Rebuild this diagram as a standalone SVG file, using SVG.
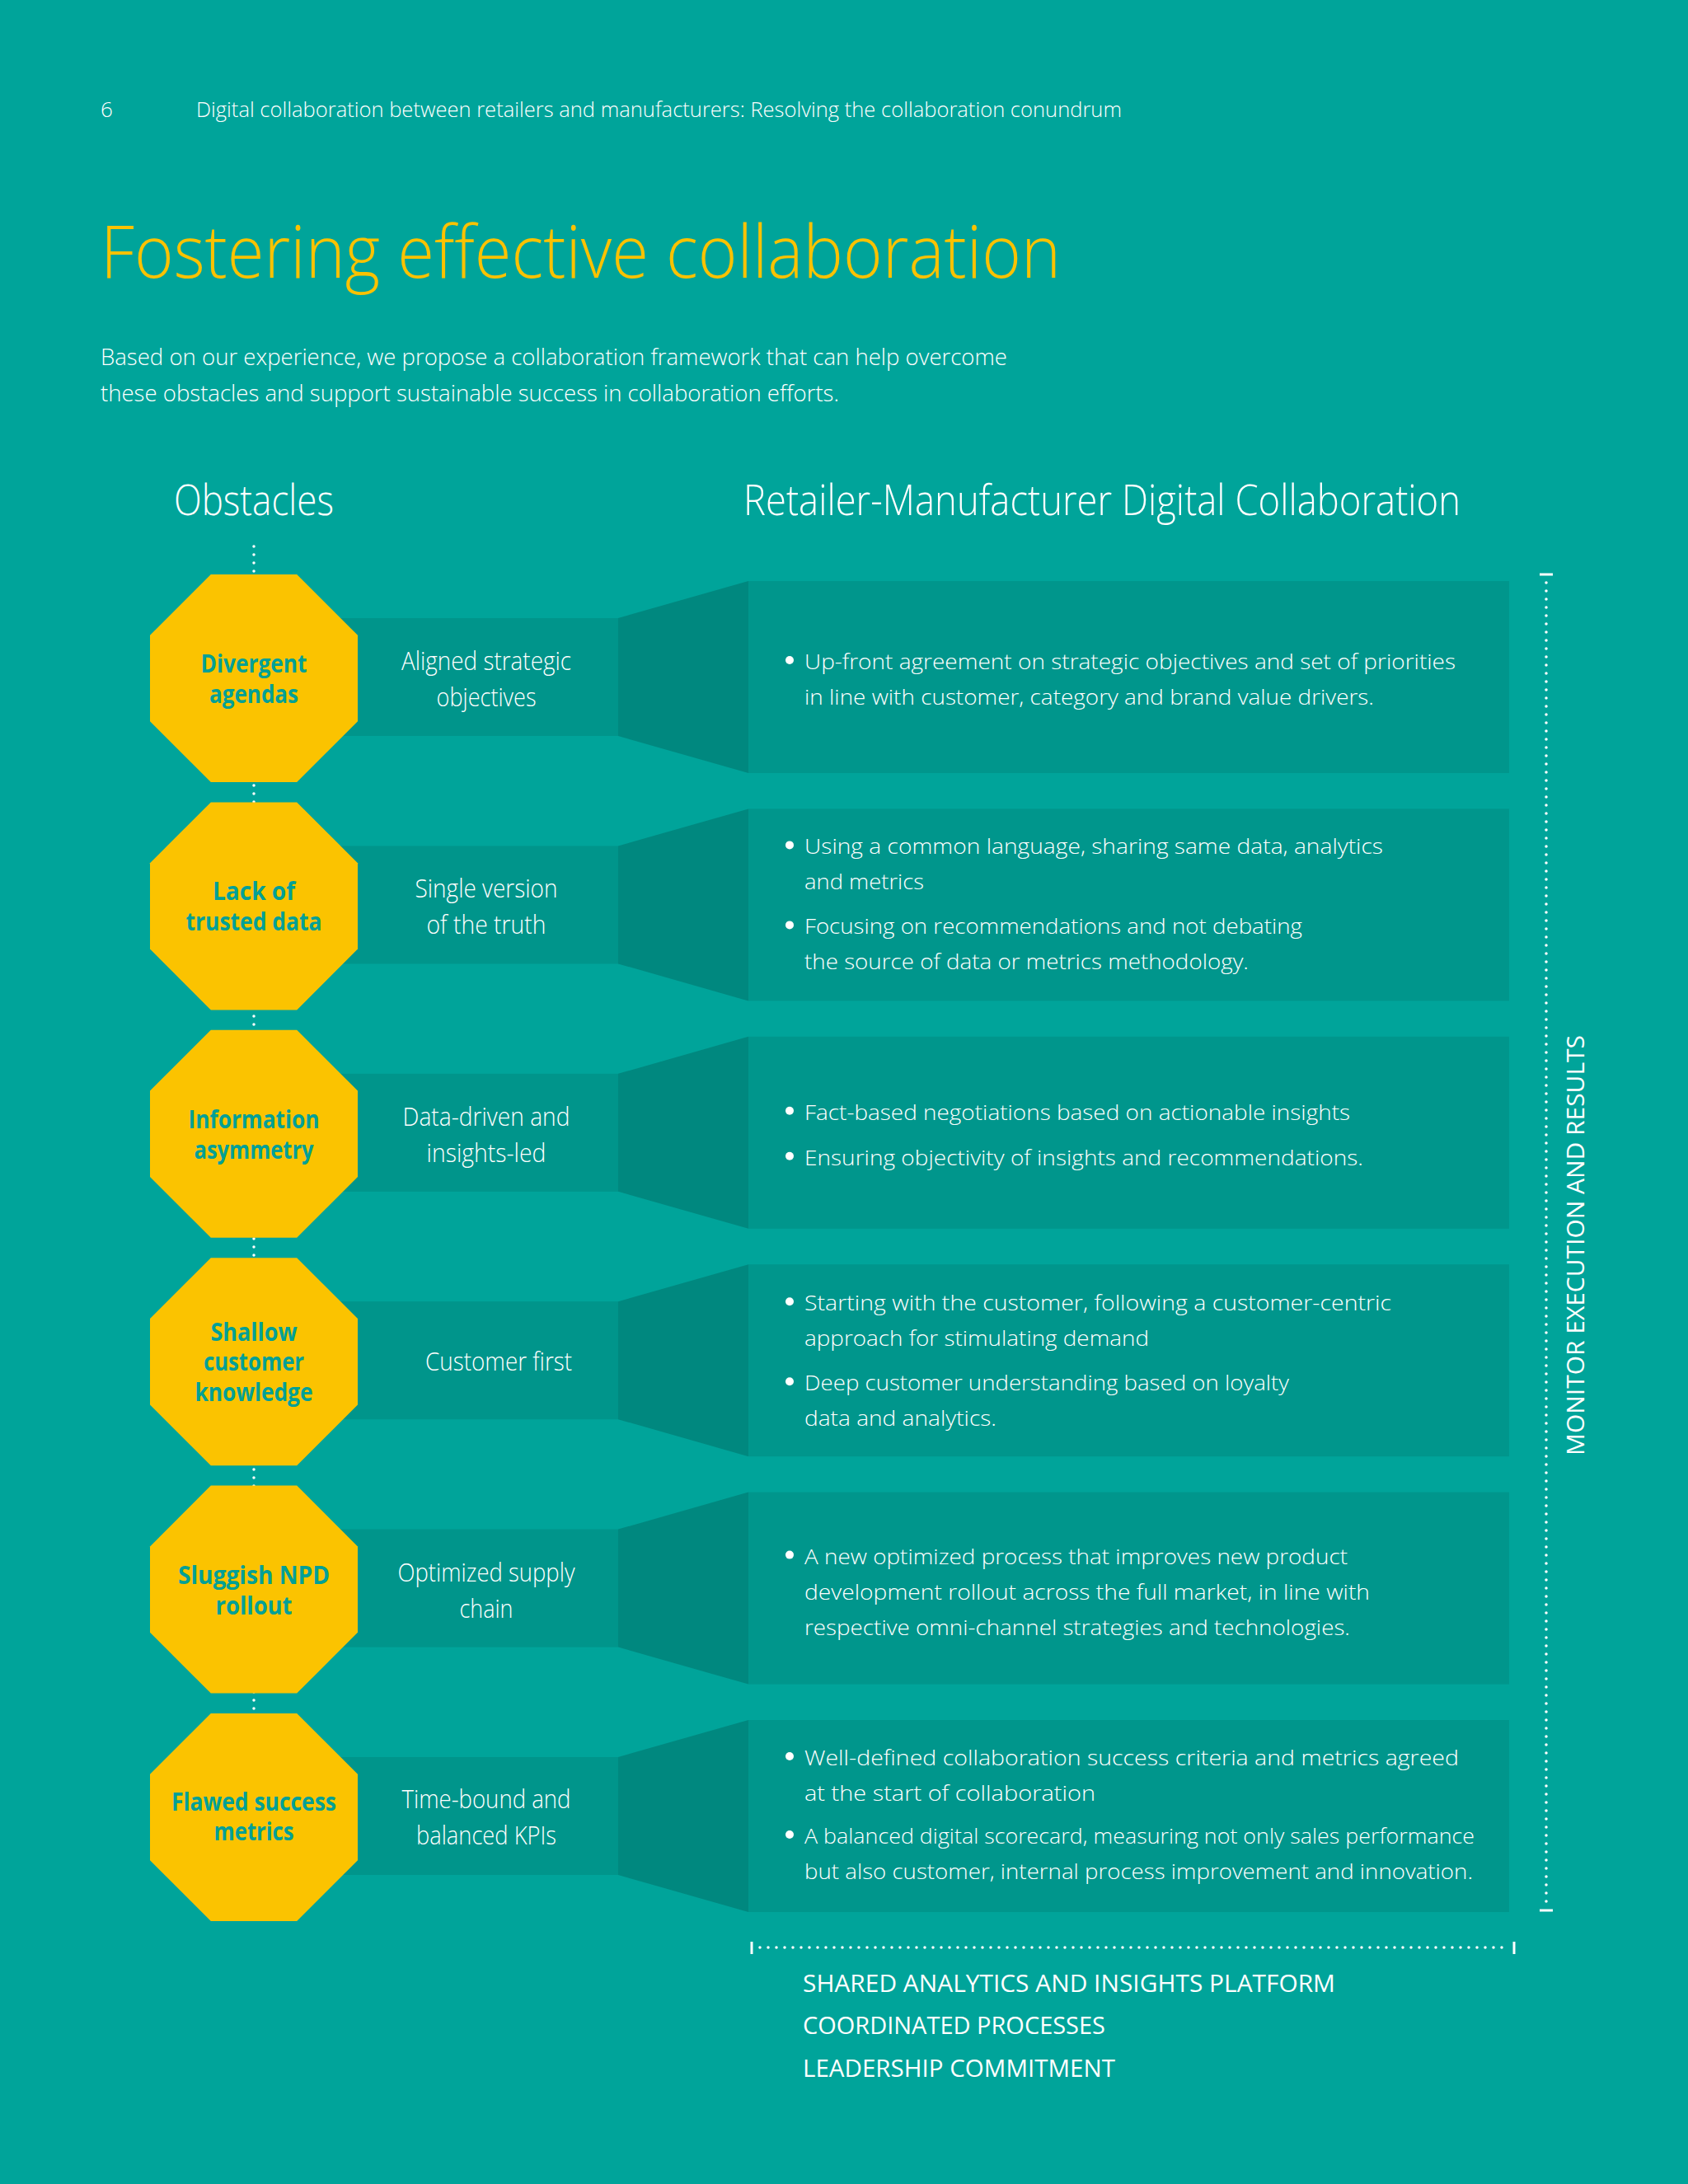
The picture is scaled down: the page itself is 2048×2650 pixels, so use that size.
<svg xmlns="http://www.w3.org/2000/svg" xmlns:xlink="http://www.w3.org/1999/xlink" width="2048" height="2650" viewBox="0 0 2048 2650">
<style>
.t{font-family:"Open Sans","Liberation Sans",sans-serif;fill:#ffffff;font-weight:300}
.hd{font-size:26px}
.title{font-size:88px;fill:#FBC200}
.para{font-size:28px}
.col{font-size:52px}
.ot{font-family:"Open Sans","Liberation Sans",sans-serif;font-size:30px;font-weight:700;fill:#00A096;text-anchor:middle}
.bt{font-size:32px;text-anchor:middle}
.ct{font-size:26px}
.ft{font-size:30px;font-weight:500}
.oct{fill:#FBC300}
.band{fill:#00958B}
.trap{fill:#00887F}
.card{fill:#00968C}
.bul{fill:#ffffff}
.dots{fill:none;stroke:#ffffff;stroke-width:3.5;stroke-linecap:round;stroke-dasharray:0 10}
.tick{stroke:#ffffff;stroke-width:3;fill:none}
</style>
<defs>
<polygon id="oct" points="255.8,0 360.2,0 434,73.8 434,178.2 360.2,252 255.8,252 182,178.2 182,73.8"/>
</defs>
<rect x="0" y="0" width="2048" height="2650" fill="#00A49A"/>

<g id="header">
<text class="t hd" x="122" y="142">6</text>
<text class="t hd" x="238" y="142" textLength="1123" lengthAdjust="spacingAndGlyphs">Digital collaboration between retailers and manufacturers: Resolving the collaboration conundrum</text>
<text class="t title" x="122" y="337" textLength="1165" lengthAdjust="spacingAndGlyphs">Fostering effective collaboration</text>
<text class="t para" x="122" y="443" textLength="1100" lengthAdjust="spacingAndGlyphs">Based on our experience, we propose a collaboration framework that can help overcome</text>
<text class="t para" x="122" y="487" textLength="896" lengthAdjust="spacingAndGlyphs">these obstacles and support sustainable success in collaboration efforts.</text>
<text class="t col" x="211" y="625" textLength="194" lengthAdjust="spacingAndGlyphs">Obstacles</text>
<text class="t col" x="902" y="625" textLength="870" lengthAdjust="spacingAndGlyphs">Retailer-Manufacturer Digital Collaboration</text>
</g>

<g id="connectors">
<line class="dots" x1="308" y1="663" x2="308" y2="2330"/>
<line class="dots" x1="1876" y1="707" x2="1876" y2="2310"/>
<line class="tick" x1="1868" y1="697" x2="1884" y2="697"/>
<line class="tick" x1="1868" y1="2318" x2="1884" y2="2318"/>
<line class="dots" x1="922" y1="2363" x2="1828" y2="2363"/>
<line class="tick" x1="912" y1="2356" x2="912" y2="2371"/>
<line class="tick" x1="1837" y1="2356" x2="1837" y2="2371"/>
</g>

<!-- Row 1 -->
<g id="solution-1" transform="translate(0,697)">
<rect class="band" x="400" y="53" width="350" height="143"/>
<polygon class="trap" points="750,53 908,8 908,241 750,196"/>
<text class="t bt" x="590" y="116" textLength="206" lengthAdjust="spacingAndGlyphs">Aligned strategic</text>
<text class="t bt" x="590" y="160" textLength="121" lengthAdjust="spacingAndGlyphs">objectives</text>
</g>
<g id="detail-1" transform="translate(0,697)">
<rect class="card" x="908" y="8" width="923" height="233"/>
<circle class="bul" cx="958" cy="104" r="5"/>
<text class="t ct" x="976" y="115" textLength="790" lengthAdjust="spacingAndGlyphs">Up-front agreement on strategic objectives and set of priorities</text>
<text class="t ct" x="976" y="158" textLength="691" lengthAdjust="spacingAndGlyphs">in line with customer, category and brand value drivers.</text>
</g>
<g id="obstacle-1" transform="translate(0,697)">
<use xlink:href="#oct" class="oct"/>
<text class="ot" x="308" y="119" textLength="129" lengthAdjust="spacingAndGlyphs">Divergent</text>
<text class="ot" x="308" y="156" textLength="108" lengthAdjust="spacingAndGlyphs">agendas</text>
</g>

<!-- Row 2 -->
<g id="solution-2" transform="translate(0,973.4)">
<rect class="band" x="400" y="53" width="350" height="143"/>
<polygon class="trap" points="750,53 908,8 908,241 750,196"/>
<text class="t bt" x="590" y="116" textLength="173" lengthAdjust="spacingAndGlyphs">Single version</text>
<text class="t bt" x="590" y="160" textLength="145" lengthAdjust="spacingAndGlyphs">of the truth</text>
</g>
<g id="detail-2" transform="translate(0,973.4)">
<rect class="card" x="908" y="8" width="923" height="233"/>
<circle class="bul" cx="958" cy="52" r="5"/>
<text class="t ct" x="976" y="63" textLength="702" lengthAdjust="spacingAndGlyphs">Using a common language, sharing same data, analytics</text>
<text class="t ct" x="976" y="106" textLength="145" lengthAdjust="spacingAndGlyphs">and metrics</text>
<circle class="bul" cx="958" cy="149" r="5"/>
<text class="t ct" x="976" y="160" textLength="604" lengthAdjust="spacingAndGlyphs">Focusing on recommendations and not debating</text>
<text class="t ct" x="976" y="203" textLength="539" lengthAdjust="spacingAndGlyphs">the source of data or metrics methodology.</text>
</g>
<g id="obstacle-2" transform="translate(0,973.4)">
<use xlink:href="#oct" class="oct"/>
<text class="ot" x="308" y="119" textLength="100" lengthAdjust="spacingAndGlyphs">Lack of</text>
<text class="ot" x="308" y="156" textLength="165" lengthAdjust="spacingAndGlyphs">trusted data</text>
</g>

<!-- Row 3 -->
<g id="solution-3" transform="translate(0,1249.8)">
<rect class="band" x="400" y="53" width="350" height="143"/>
<polygon class="trap" points="750,53 908,8 908,241 750,196"/>
<text class="t bt" x="590" y="116" textLength="203" lengthAdjust="spacingAndGlyphs">Data-driven and</text>
<text class="t bt" x="590" y="160" textLength="145" lengthAdjust="spacingAndGlyphs">insights-led</text>
</g>
<g id="detail-3" transform="translate(0,1249.8)">
<rect class="card" x="908" y="8" width="923" height="233"/>
<circle class="bul" cx="958" cy="98" r="5"/>
<text class="t ct" x="976" y="109" textLength="662" lengthAdjust="spacingAndGlyphs">Fact-based negotiations based on actionable insights</text>
<circle class="bul" cx="958" cy="153" r="5"/>
<text class="t ct" x="976" y="164" textLength="678" lengthAdjust="spacingAndGlyphs">Ensuring objectivity of insights and recommendations.</text>
</g>
<g id="obstacle-3" transform="translate(0,1249.8)">
<use xlink:href="#oct" class="oct"/>
<text class="ot" x="308" y="119" textLength="159" lengthAdjust="spacingAndGlyphs">Information</text>
<text class="ot" x="308" y="156" textLength="145" lengthAdjust="spacingAndGlyphs">asymmetry</text>
</g>

<!-- Row 4 -->
<g id="solution-4" transform="translate(0,1526.2)">
<rect class="band" x="400" y="53" width="350" height="143"/>
<polygon class="trap" points="750,53 908,8 908,241 750,196"/>
<text class="t bt" x="605" y="137" textLength="178" lengthAdjust="spacingAndGlyphs">Customer first</text>
</g>
<g id="detail-4" transform="translate(0,1526.2)">
<rect class="card" x="908" y="8" width="923" height="233"/>
<circle class="bul" cx="958" cy="53" r="5"/>
<text class="t ct" x="976" y="64" textLength="712" lengthAdjust="spacingAndGlyphs">Starting with the customer, following a customer-centric</text>
<text class="t ct" x="976" y="107" textLength="418" lengthAdjust="spacingAndGlyphs">approach for stimulating demand</text>
<circle class="bul" cx="958" cy="150" r="5"/>
<text class="t ct" x="976" y="161" textLength="588" lengthAdjust="spacingAndGlyphs">Deep customer understanding based on loyalty</text>
<text class="t ct" x="976" y="204" textLength="233" lengthAdjust="spacingAndGlyphs">data and analytics.</text>
</g>
<g id="obstacle-4" transform="translate(0,1526.2)">
<use xlink:href="#oct" class="oct"/>
<text class="ot" x="308" y="101" textLength="105" lengthAdjust="spacingAndGlyphs">Shallow</text>
<text class="ot" x="308" y="137" textLength="122" lengthAdjust="spacingAndGlyphs">customer</text>
<text class="ot" x="308" y="174" textLength="143" lengthAdjust="spacingAndGlyphs">knowledge</text>
</g>

<!-- Row 5 -->
<g id="solution-5" transform="translate(0,1802.6)">
<rect class="band" x="400" y="53" width="350" height="143"/>
<polygon class="trap" points="750,53 908,8 908,241 750,196"/>
<text class="t bt" x="590" y="116" textLength="215" lengthAdjust="spacingAndGlyphs">Optimized supply</text>
<text class="t bt" x="590" y="160" textLength="65" lengthAdjust="spacingAndGlyphs">chain</text>
</g>
<g id="detail-5" transform="translate(0,1802.6)">
<rect class="card" x="908" y="8" width="923" height="233"/>
<circle class="bul" cx="958" cy="84" r="5"/>
<text class="t ct" x="976" y="95" textLength="659" lengthAdjust="spacingAndGlyphs">A new optimized process that improves new product</text>
<text class="t ct" x="976" y="138" textLength="686" lengthAdjust="spacingAndGlyphs">development rollout across the full market, in line with</text>
<text class="t ct" x="976" y="181" textLength="662" lengthAdjust="spacingAndGlyphs">respective omni-channel strategies and technologies.</text>
</g>
<g id="obstacle-5" transform="translate(0,1802.6)">
<use xlink:href="#oct" class="oct"/>
<text class="ot" x="308" y="119" textLength="184" lengthAdjust="spacingAndGlyphs">Sluggish NPD</text>
<text class="ot" x="308" y="156" textLength="93" lengthAdjust="spacingAndGlyphs">rollout</text>
</g>

<!-- Row 6 -->
<g id="solution-6" transform="translate(0,2079)">
<rect class="band" x="400" y="53" width="350" height="143"/>
<polygon class="trap" points="750,53 908,8 908,241 750,196"/>
<text class="t bt" x="590" y="115" textLength="205" lengthAdjust="spacingAndGlyphs">Time-bound and</text>
<text class="t bt" x="590" y="159" textLength="170" lengthAdjust="spacingAndGlyphs">balanced KPIs</text>
</g>
<g id="detail-6" transform="translate(0,2079)">
<rect class="card" x="908" y="8" width="923" height="233"/>
<circle class="bul" cx="958" cy="52" r="5"/>
<text class="t ct" x="976" y="63" textLength="794" lengthAdjust="spacingAndGlyphs">Well-defined collaboration success criteria and metrics agreed</text>
<text class="t ct" x="976" y="106" textLength="353" lengthAdjust="spacingAndGlyphs">at the start of collaboration</text>
<circle class="bul" cx="958" cy="147" r="5"/>
<text class="t ct" x="976" y="158" textLength="813" lengthAdjust="spacingAndGlyphs">A balanced digital scorecard, measuring not only sales performance</text>
<text class="t ct" x="976" y="201" textLength="811" lengthAdjust="spacingAndGlyphs">but also customer, internal process improvement and innovation.</text>
</g>
<g id="obstacle-6" transform="translate(0,2079)">
<use xlink:href="#oct" class="oct"/>
<text class="ot" x="308" y="118" textLength="200" lengthAdjust="spacingAndGlyphs">Flawed success</text>
<text class="ot" x="308" y="154" textLength="97" lengthAdjust="spacingAndGlyphs">metrics</text>
</g>

<g id="monitor">
<text class="t ft" transform="translate(1922,1766) rotate(-90)" font-size="31" textLength="510" lengthAdjust="spacingAndGlyphs">MONITOR EXECUTION AND RESULTS</text>
</g>
<g id="foundations">
<text class="t ft" x="974" y="2417" textLength="646" lengthAdjust="spacingAndGlyphs">SHARED ANALYTICS AND INSIGHTS PLATFORM</text>
<text class="t ft" x="974" y="2468" textLength="367" lengthAdjust="spacingAndGlyphs">COORDINATED PROCESSES</text>
<text class="t ft" x="974" y="2520" textLength="379" lengthAdjust="spacingAndGlyphs">LEADERSHIP COMMITMENT</text>
</g>
</svg>
